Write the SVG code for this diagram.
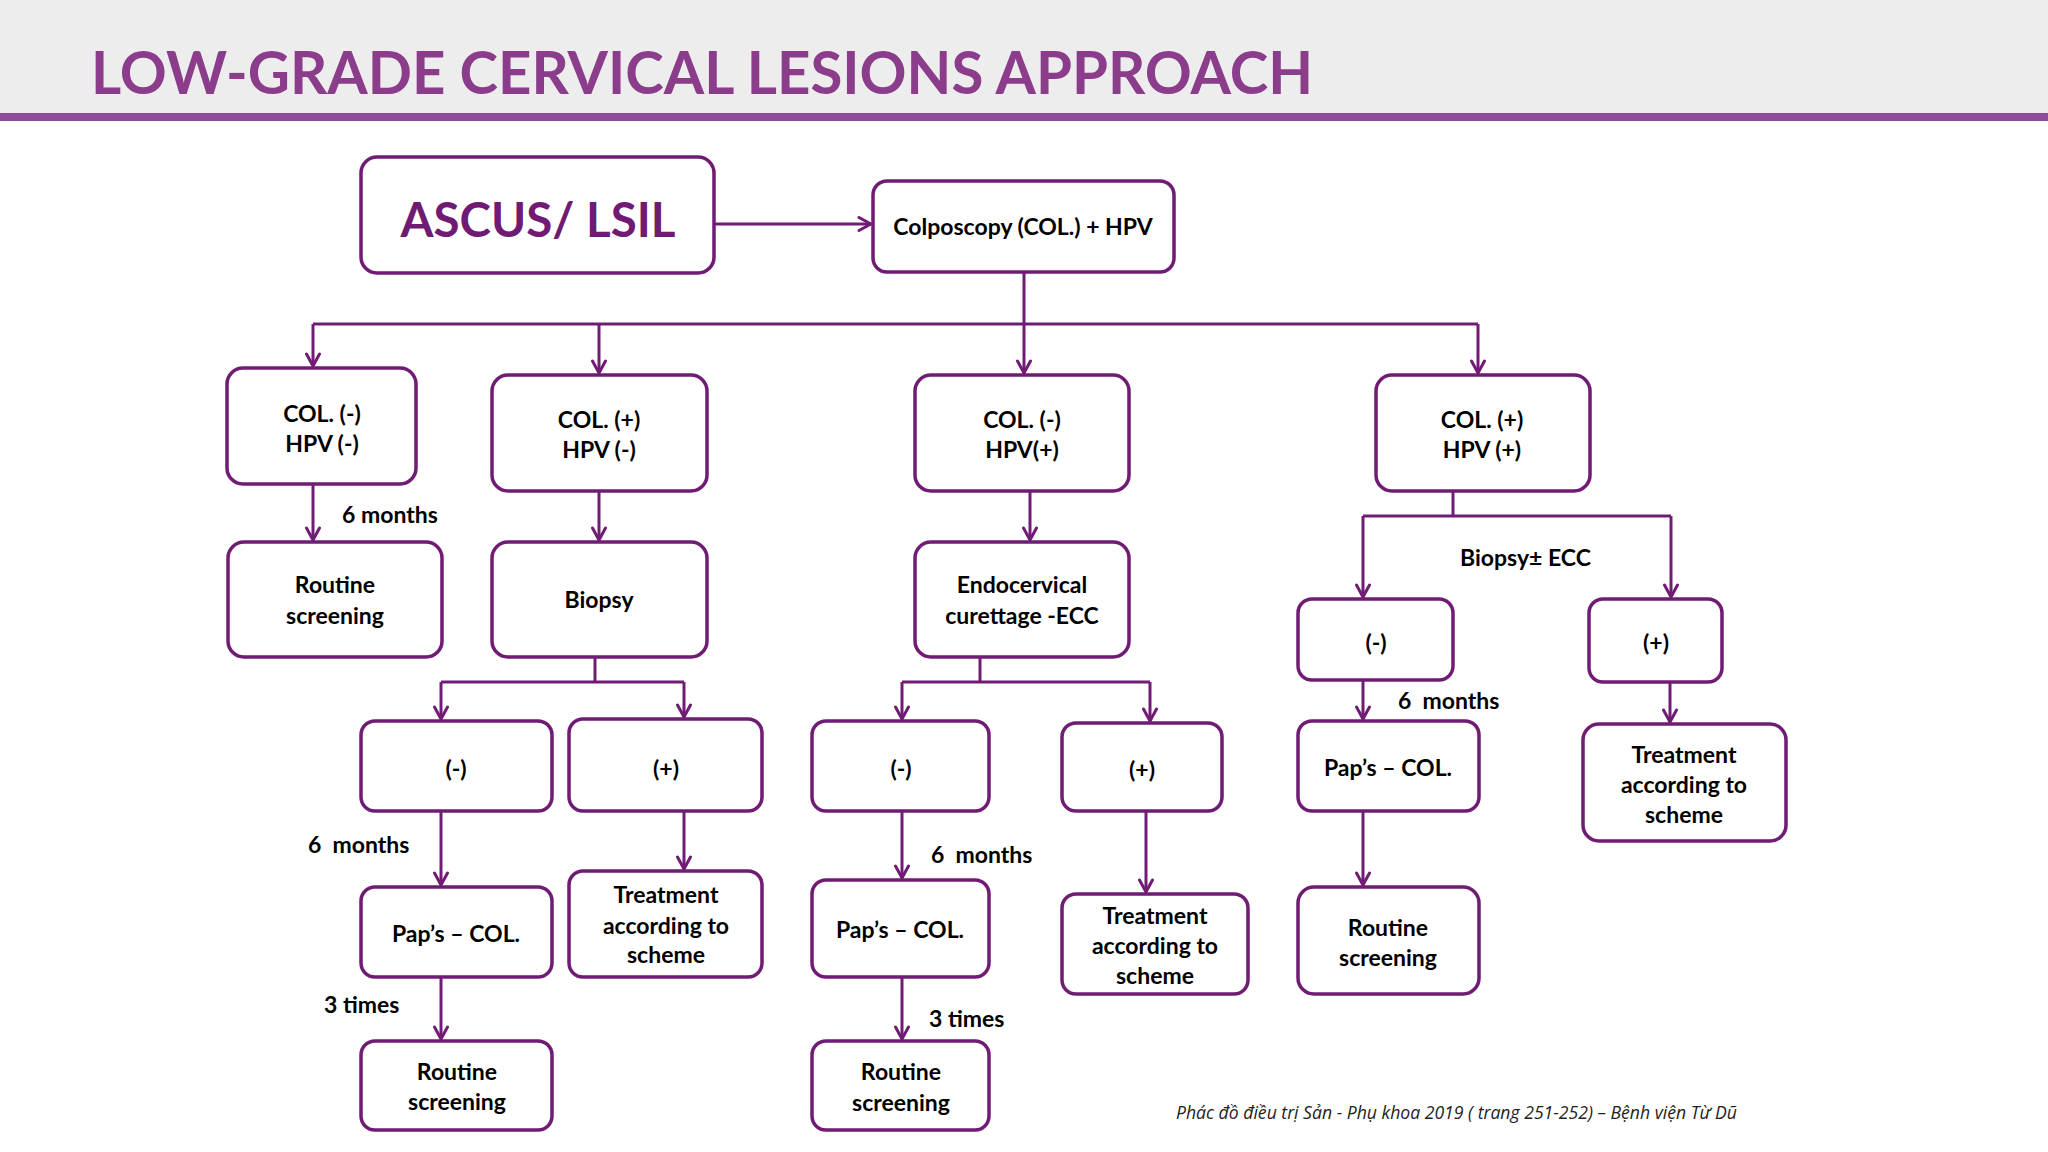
<svg xmlns="http://www.w3.org/2000/svg" width="2048" height="1152" viewBox="0 0 2048 1152">
<style>
.box{fill:#fff;stroke:#701C74;stroke-width:3.5}
.t{font-family:Lato,"Liberation Sans",sans-serif;font-weight:bold;font-size:23px;fill:#000;text-anchor:middle}
.lbl{font-family:Lato,"Liberation Sans",sans-serif;font-weight:bold;font-size:23px;fill:#000;white-space:pre}
.c{fill:none;stroke:#701C74;stroke-width:3;marker-end:url(#ah)}
.cn{fill:none;stroke:#701C74;stroke-width:3}
</style>
<defs>
<marker id="ah" viewBox="0 0 16 16" refX="14" refY="8" markerWidth="16" markerHeight="16" markerUnits="userSpaceOnUse" orient="auto">
<path d="M2,1.5 L14,8 L2,14.5" fill="none" stroke="#701C74" stroke-width="3" stroke-linecap="round" stroke-linejoin="round"/>
</marker>
</defs>
<rect x="0" y="0" width="2048" height="113" fill="#EDEDED"/>
<rect x="0" y="113" width="2048" height="8" fill="#8E4A9B"/>
<text x="91" y="94" font-family="Lato,'Liberation Sans',sans-serif" font-weight="bold" font-size="60" fill="#8B3D8B" textLength="1222" lengthAdjust="spacingAndGlyphs">LOW-GRADE CERVICAL LESIONS APPROACH</text>

<g id="connectors">
<path class="c" d="M714,224 H871"/>
<path class="cn" d="M1024,272 V324 M313,324 H1478"/>
<path class="c" d="M313,324 V366"/>
<path class="c" d="M599,324 V373"/>
<path class="c" d="M1024,324 V373"/>
<path class="c" d="M1478,324 V373"/>
<path class="c" d="M313,484 V540"/>
<path class="c" d="M599,491 V540"/>
<path class="c" d="M1030,491 V540"/>
<path class="cn" d="M595,657 V682 M441,682 H684"/>
<path class="c" d="M441,682 V719"/>
<path class="c" d="M684,682 V717"/>
<path class="c" d="M441,811 V885"/>
<path class="c" d="M684,811 V869"/>
<path class="c" d="M441,977 V1039"/>
<path class="cn" d="M980,657 V682 M902,682 H1150"/>
<path class="c" d="M902,682 V719"/>
<path class="c" d="M1150,682 V721"/>
<path class="c" d="M902,811 V878"/>
<path class="c" d="M1146,811 V892"/>
<path class="c" d="M902,977 V1039"/>
<path class="cn" d="M1453,491 V516 M1363,516 H1671"/>
<path class="c" d="M1363,516 V597"/>
<path class="c" d="M1671,516 V597"/>
<path class="c" d="M1363,680 V719"/>
<path class="c" d="M1670,682 V722"/>
<path class="c" d="M1363,811 V885"/>
</g>

<g id="labels">
<text class="lbl" x="342" y="523">6 months</text>
<text class="lbl" x="308" y="853">6  months</text>
<text class="lbl" x="324" y="1013">3 times</text>
<text class="lbl" x="931" y="863">6  months</text>
<text class="lbl" x="929" y="1027">3 times</text>
<text class="lbl" x="1460" y="566">Biopsy± ECC</text>
<text class="lbl" x="1398" y="709">6  months</text>
</g>

<g id="ascus"><rect class="box" x="361" y="157" width="353" height="116" rx="16"/>
<text x="538" y="237" font-family="Lato,'Liberation Sans',sans-serif" font-weight="bold" font-size="47" fill="#701A73" text-anchor="middle" textLength="275" lengthAdjust="spacingAndGlyphs">ASCUS/ LSIL</text></g>
<g id="colposcopy"><rect class="box" x="873" y="181" width="301" height="91" rx="14"/>
<text class="t" x="1023" y="235">Colposcopy (COL.) + HPV</text></g>

<g id="col-neg-hpv-neg"><rect class="box" x="227" y="368" width="189" height="116" rx="16"/>
<text class="t" x="322" y="422">COL. (-)</text><text class="t" x="322" y="452">HPV (-)</text></g>
<g id="col-pos-hpv-neg"><rect class="box" x="492" y="375" width="215" height="116" rx="16"/>
<text class="t" x="599" y="428">COL. (+)</text><text class="t" x="599" y="458">HPV (-)</text></g>
<g id="col-neg-hpv-pos"><rect class="box" x="915" y="375" width="214" height="116" rx="16"/>
<text class="t" x="1022" y="428">COL. (-)</text><text class="t" x="1022" y="458">HPV(+)</text></g>
<g id="col-pos-hpv-pos"><rect class="box" x="1376" y="375" width="214" height="116" rx="16"/>
<text class="t" x="1482" y="428">COL. (+)</text><text class="t" x="1482" y="458">HPV (+)</text></g>

<g id="routine1"><rect class="box" x="228" y="542" width="214" height="115" rx="16"/>
<text class="t" x="335" y="593">Routine</text><text class="t" x="335" y="624">screening</text></g>
<g id="biopsy"><rect class="box" x="492" y="542" width="215" height="115" rx="16"/>
<text class="t" x="599" y="608">Biopsy</text></g>
<g id="ecc"><rect class="box" x="915" y="542" width="214" height="115" rx="16"/>
<text class="t" x="1022" y="593">Endocervical</text><text class="t" x="1022" y="624">curettage -ECC</text></g>

<g id="biopsy-neg"><rect class="box" x="361" y="721" width="191" height="90" rx="14"/>
<text class="t" x="456" y="777">(-)</text></g>
<g id="biopsy-pos"><rect class="box" x="569" y="719" width="193" height="92" rx="14"/>
<text class="t" x="666" y="777">(+)</text></g>
<g id="pap1"><rect class="box" x="361" y="887" width="191" height="90" rx="14"/>
<text class="t" x="456" y="942">Pap’s – COL.</text></g>
<g id="treat1"><rect class="box" x="569" y="871" width="193" height="106" rx="14"/>
<text class="t" x="666" y="903">Treatment</text><text class="t" x="666" y="934">according to</text><text class="t" x="666" y="963">scheme</text></g>
<g id="routine2"><rect class="box" x="361" y="1041" width="191" height="89" rx="14"/>
<text class="t" x="457" y="1080">Routine</text><text class="t" x="457" y="1110">screening</text></g>

<g id="ecc-neg"><rect class="box" x="812" y="721" width="177" height="90" rx="14"/>
<text class="t" x="901" y="777">(-)</text></g>
<g id="ecc-pos"><rect class="box" x="1062" y="723" width="160" height="88" rx="14"/>
<text class="t" x="1142" y="778">(+)</text></g>
<g id="pap2"><rect class="box" x="812" y="880" width="177" height="97" rx="14"/>
<text class="t" x="900" y="938">Pap’s – COL.</text></g>
<g id="treat2"><rect class="box" x="1062" y="894" width="186" height="100" rx="14"/>
<text class="t" x="1155" y="924">Treatment</text><text class="t" x="1155" y="954">according to</text><text class="t" x="1155" y="984">scheme</text></g>
<g id="routine3"><rect class="box" x="812" y="1041" width="177" height="89" rx="14"/>
<text class="t" x="901" y="1080">Routine</text><text class="t" x="901" y="1111">screening</text></g>

<g id="cb-neg"><rect class="box" x="1298" y="599" width="155" height="81" rx="14"/>
<text class="t" x="1376" y="651">(-)</text></g>
<g id="cb-pos"><rect class="box" x="1589" y="599" width="133" height="83" rx="14"/>
<text class="t" x="1656" y="651">(+)</text></g>
<g id="pap3"><rect class="box" x="1298" y="721" width="181" height="90" rx="14"/>
<text class="t" x="1388" y="776">Pap’s – COL.</text></g>
<g id="treat3"><rect class="box" x="1583" y="724" width="203" height="117" rx="16"/>
<text class="t" x="1684" y="763">Treatment</text><text class="t" x="1684" y="793">according to</text><text class="t" x="1684" y="823">scheme</text></g>
<g id="routine4"><rect class="box" x="1298" y="887" width="181" height="107" rx="16"/>
<text class="t" x="1388" y="936">Routine</text><text class="t" x="1388" y="966">screening</text></g>

<text x="1176" y="1119" font-family="'Open Sans','Noto Sans',sans-serif" font-style="italic" font-size="17.5" fill="#222" textLength="561" lengthAdjust="spacingAndGlyphs">Phác đồ điều trị Sản - Phụ khoa 2019 ( trang 251-252) – Bệnh viện Từ Dũ</text>
</svg>
